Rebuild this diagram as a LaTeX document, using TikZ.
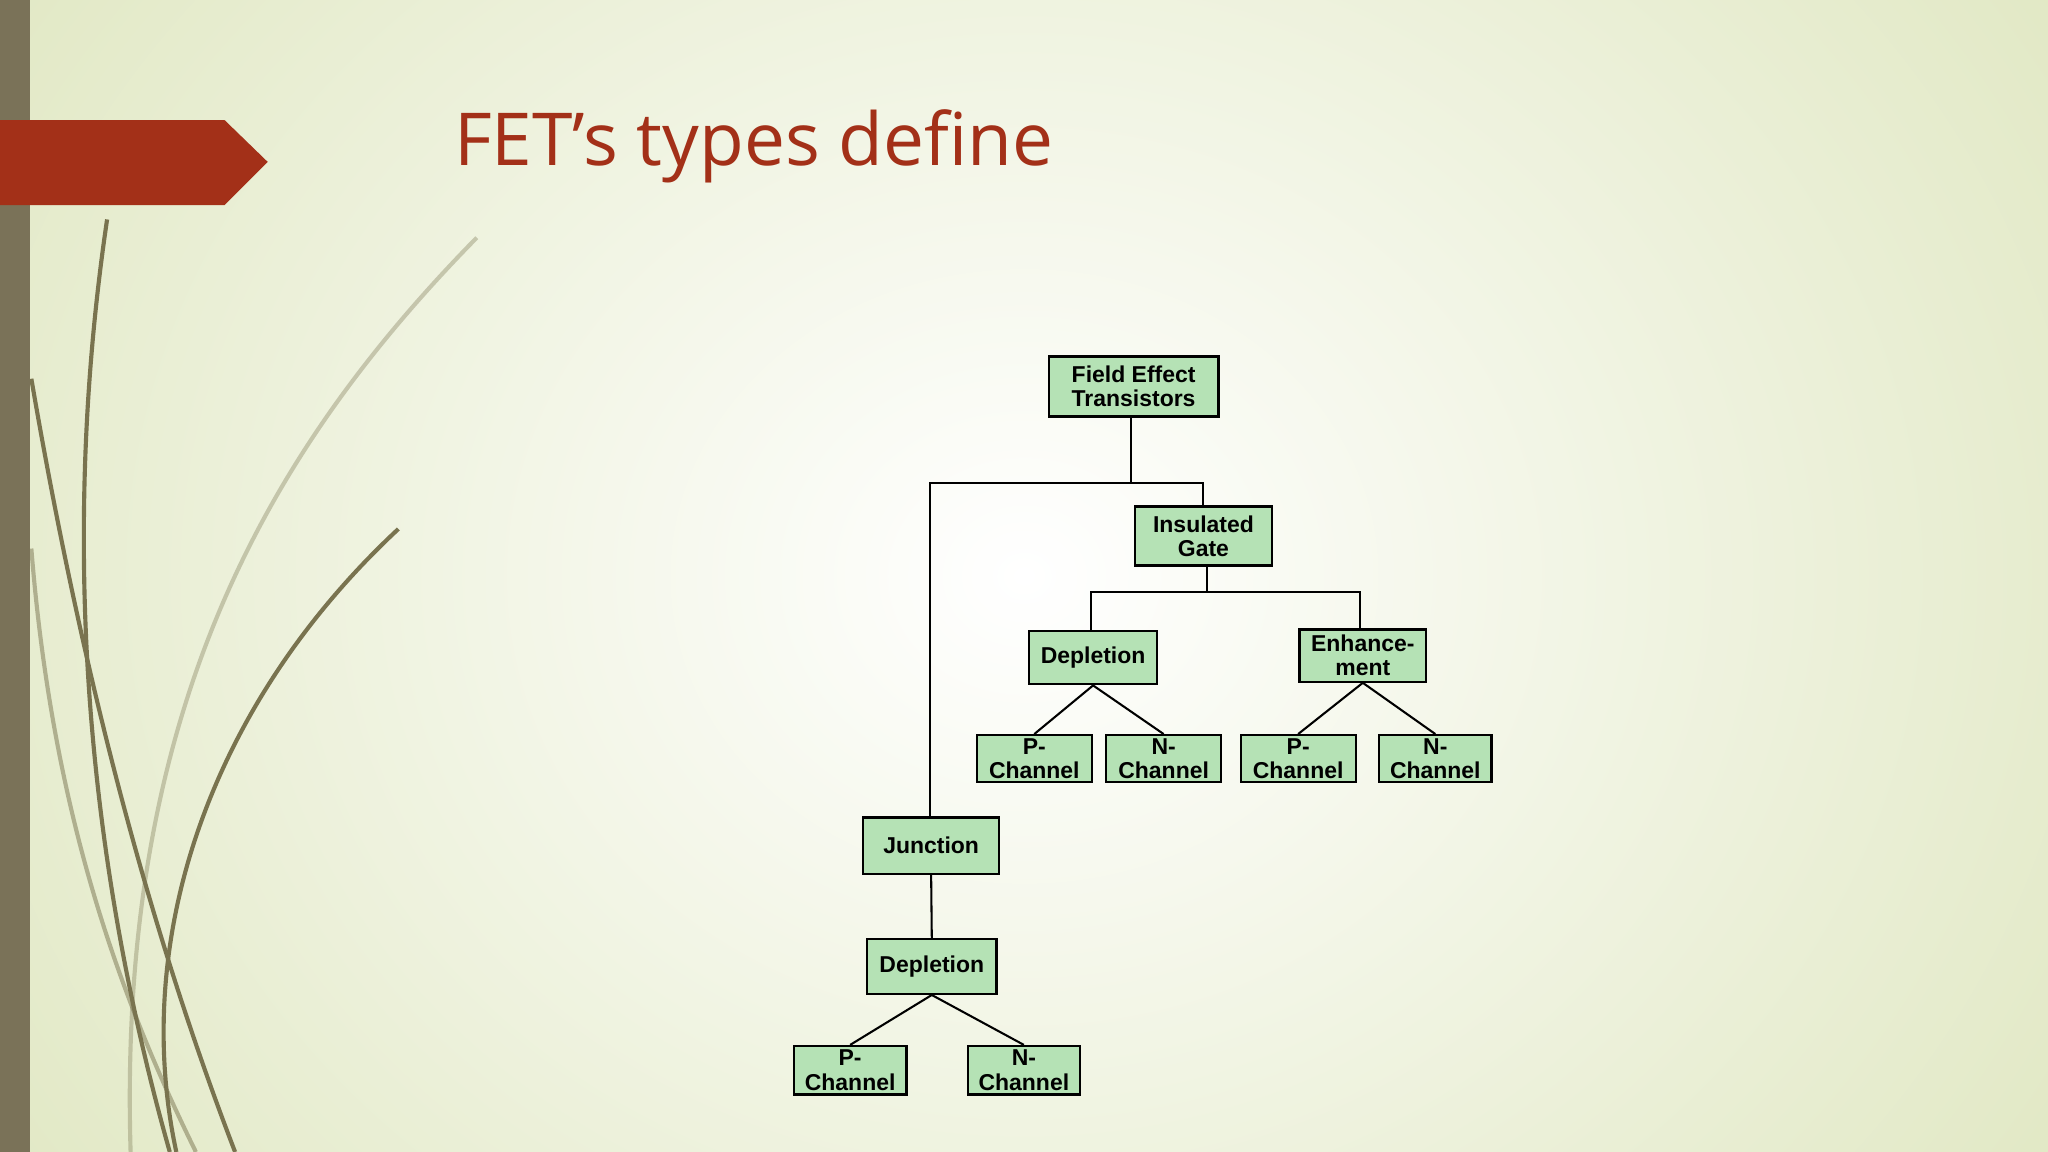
\documentclass[tikz,border=0pt]{standalone}
\usepackage{fontspec}
\setmainfont{Liberation Sans}
\newfontfamily\titlefont{Open Sans}
\begin{document}
\begin{tikzpicture}[x=0.01cm,y=-0.01cm,
  box/.style={draw=black,line width=0.5pt,fill=boxgreen,inner sep=0pt,font=\fontsize{5pt}{5.3pt}\selectfont\bfseries,align=center,anchor=north west},
  con/.style={draw=black,line width=0.45pt},
  grass/.style={draw=grasscol,line width=0.9pt}]
\definecolor{boxgreen}{HTML}{B5E2B5}
\definecolor{bgout}{HTML}{DDE5BC}
\definecolor{barcol}{HTML}{7A7258}
\definecolor{redcol}{HTML}{A33018}
\definecolor{grasscol}{HTML}{79734F}
\useasboundingbox (0,0) rectangle (1568,882);
\shade[inner color=white,outer color=bgout] (-300,-500) rectangle (1868,1382);
\clip (0,0) rectangle (1568,882);
% grass
\draw[grass] (82,168) .. controls (55,350) and (50,600) .. (130,882);
\draw[grass] (24,290) .. controls (60,500) and (110,700) .. (180,882);
\draw[grass] (305,405) .. controls (160,540) and (100,720) .. (135,882);
\draw[grass,draw opacity=0.35] (365,182) .. controls (200,350) and (90,550) .. (100,882);
\draw[grass,draw opacity=0.5] (24,420) .. controls (40,620) and (90,760) .. (150,882);
\fill[barcol] (0,0) rectangle (23,882);
\fill[redcol] (0,92) -- (172,92) -- (205,124) -- (172,157) -- (0,157) -- cycle;
\node[anchor=base west,inner sep=0pt,text=redcol,font=\titlefont\fontsize{15.9pt}{19pt}\selectfont] (title) at (347,127) {FET’s types define};
% boxes
\node[box,minimum width=1.30cm,minimum height=0.46cm] (fet) at (802,272) {Field Effect\\Transistors};
\node[box,minimum width=1.05cm,minimum height=0.45cm] (ig) at (868,387) {Insulated\\Gate};
\node[box,minimum width=0.98cm,minimum height=0.41cm] (dep1) at (787,482) {Depletion};
\node[box,minimum width=0.97cm,minimum height=0.40cm] (enh) at (994,481) {Enhance-\\ment};
\node[box,minimum width=0.88cm,minimum height=0.36cm] (p1) at (747,562) {P-\\Channel};
\node[box,minimum width=0.88cm,minimum height=0.36cm] (n1) at (846,562) {N-\\Channel};
\node[box,minimum width=0.88cm,minimum height=0.36cm] (p2) at (949,562) {P-\\Channel};
\node[box,minimum width=0.86cm,minimum height=0.36cm] (n2) at (1055,562) {N-\\Channel};
\node[box,minimum width=1.04cm,minimum height=0.43cm] (jun) at (660,625) {Junction};
\node[box,minimum width=0.99cm,minimum height=0.42cm] (dep2) at (663,718) {Depletion};
\node[box,minimum width=0.86cm,minimum height=0.37cm] (p3) at (607,800) {P-\\Channel};
\node[box,minimum width=0.86cm,minimum height=0.37cm] (n3) at (740,800) {N-\\Channel};
\coordinate (j1) at (866,370);
\coordinate (jl) at (712,370);
\coordinate (jr) at (921,370);
\coordinate (k1) at (924,453);
\coordinate (kl) at (835,453);
\coordinate (kr) at (1041,453);
\draw[con] (fet.south -| j1) -- (j1);
\draw[con] (jl |- jun.north) -- (jl) -- (jr) -- (jr |- ig.north);
\draw[con] (ig.south -| k1) -- (k1);
\draw[con] (kl |- dep1.north) -- (kl) -- (kr) -- (kr |- enh.north);
\draw[con] (dep1.south) -- (p1.north);
\draw[con] (dep1.south) -- (n1.north);
\draw[con] (enh.south) -- (p2.north);
\draw[con] (enh.south) -- (n2.north);
\draw[con] (jun.south) -- (dep2.north);
\draw[con] (dep2.south) -- (p3.north);
\draw[con] (dep2.south) -- (n3.north);
\end{tikzpicture}
\end{document}
